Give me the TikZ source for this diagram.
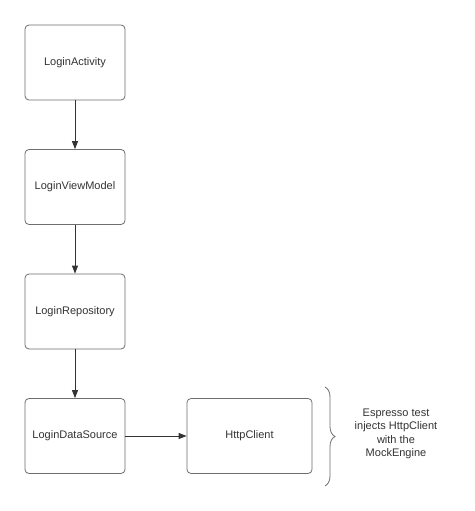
\documentclass[tikz,border=0pt]{standalone}
\usepackage{fontspec}
\setmainfont{Liberation Sans}
\usetikzlibrary{arrows.meta,decorations.pathreplacing}
\definecolor{boxline}{HTML}{6E6E6E}
\definecolor{ink}{HTML}{333333}
\tikzset{
  box/.style={draw=boxline, line width=0.8pt, rounded corners=4pt, minimum width=100pt, minimum height=75pt, text=ink, font=\fontsize{11}{13.5}\selectfont},
  link/.style={draw=ink, line width=0.8pt, -{Triangle[width=6pt,length=8pt]}}
}
\begin{document}
\begin{tikzpicture}[x=1pt,y=-1pt]
\useasboundingbox[fill=white] (0,0) rectangle (474,511);
\node[box] (activity) at (75,62.5){LoginActivity};
\node[box] (viewmodel) at (75,187){LoginViewModel};
\node[box] (repository) at (75,311.5){LoginRepository};
\node[box] (datasource) at (75,436){LoginDataSource};
\node[box, minimum width=125pt] (httpclient) at (249.5,436){HttpClient};
\draw[link](activity) -- (viewmodel);
\draw[link](viewmodel) -- (repository);
\draw[link](repository) -- (datasource);
\draw[link](datasource) -- (httpclient);
\coordinate (bracetop) at (325,387);
\coordinate (bracebot) at (325,486);
\draw[draw=boxline, line width=0.8pt, decorate, decoration={brace, amplitude=10pt}](bracetop) -- (bracebot);
\node[align=center, text=ink, font=\fontsize{11}{13.5}\selectfont] (note) at (396,434){Espresso test\\injects HttpClient\\with the\\MockEngine};

\end{tikzpicture}
\end{document}
